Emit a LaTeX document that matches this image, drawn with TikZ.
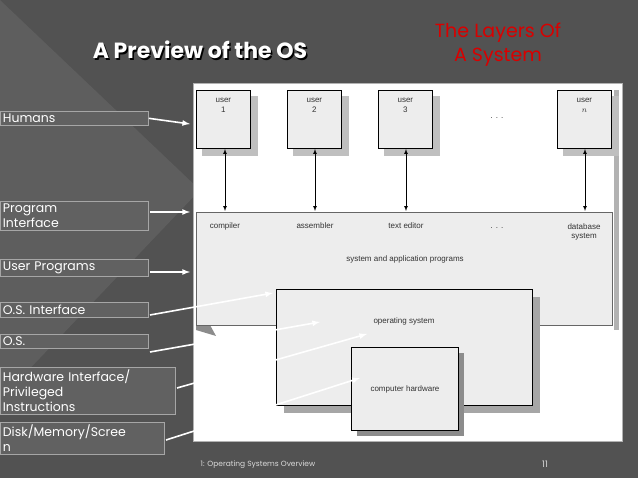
\documentclass[tikz,border=0pt]{standalone}
\usepackage{fontspec}
\setmainfont{Poppins}
\newfontfamily\arialf{Liberation Sans}
\begin{document}
\begin{tikzpicture}[x=1pt,y=-1pt,
  lbl/.style={draw=gray!70,line width=0.8pt,fill=black!62,text=white,font=\fontsize{12.5}{15}\selectfont,inner sep=2.5pt,anchor=north west,align=left,text width=#1},
  box/.style={draw=black,fill=black!7,line width=0.7pt},
  small/.style={font=\arialf\fontsize{8}{9.5}\selectfont,text=black!80,align=center},
  warr/.style={draw=white,line width=1.6pt,-latex},
  barr/.style={draw=black,line width=0.7pt,latex-latex}]
\useasboundingbox (0,0) rectangle (638,478);
\fill[black!68] (0,0) rectangle (638,478);
\fill[black!63] (0,0) -- (200,190) -- (0,400) -- cycle;
% title
\node[text=black,font=\bfseries\fontsize{22}{24}\selectfont] at (201.5,51.5) {A Preview of the OS};
\node (title) [text=white,font=\bfseries\fontsize{22}{24}\selectfont] at (200,50) {A Preview of the OS};
\node (sub) [text=red!85!black,font=\fontsize{19}{24}\selectfont,align=center] at (498,45) {The Layers Of\\A System};
% panel
\fill[white] (193,84) rectangle (622,442);
\draw[gray!60,line width=1pt] (193,84) rectangle (622,442);
\fill[black!30] (614,90) rectangle (619,330);
% users
\foreach \x/\n/\t in {196/u1/1,287/u2/2,378/u3/3,557/un/$n$}{
  \fill[black!25] (\x+6,96) rectangle (\x+62,156);
  \node (\n) [box,minimum width=54pt,minimum height=58pt,anchor=north west,small,text depth=28pt] at (\x,90) {user\\\t};
}
\node (dots1) [small] at (497,118) {. . .};
% programs box
\fill[black!45] (210,325) -- (196,320) -- (196,330) -- (216,336) -- cycle;
\node (prog) [box,draw=black!60,minimum width=416pt,minimum height=113pt,anchor=north west] at (196,212) {};
\node (comp) [small] at (225,226) {compiler};
\node (asm) [small] at (315,226) {assembler};
\node (ted) [small] at (406,226) {text editor};
\node (dots2) [small] at (497,228) {. . .};
\node (db) [small] at (584,232) {database\\system};
\node (sap) [small] at (405,259) {system and application programs};
% os
\fill[black!35] (284,297) rectangle (540,413);
\node (os) [box,minimum width=256pt,minimum height=116pt,anchor=north west] at (276,289) {};
\node (ostxt) [small] at (404,321) {operating system};
% hw
\fill[black!45] (357,353) rectangle (464,436);
\node (hw) [box,minimum width=107pt,minimum height=83pt,anchor=north west] at (351,347) {};
\node (hwtxt) [small] at (405,389) {computer hardware};
% vertical arrows
\foreach \u/\x in {u1/225,u2/315,u3/406,un/585}{
  \coordinate (t\u) at (\x,149); \coordinate (b\u) at (\x,211);
  \draw[barr] (t\u) -- (b\u);
}
% left labels
\node (hum) [lbl=143pt] at (0,111) {Humans};
\node (pi) [lbl=143pt] at (0,201) {Program\\Interface};
\node (up) [lbl=143pt] at (0,259) {User Programs};
\node (osi) [lbl=143pt] at (0,302) {O.S. Interface};
\node (oslb) [lbl=143pt] at (0,334) {O.S.};
\node (hwi) [lbl=170pt] at (0,367) {Hardware Interface/\\Privileged\\Instructions};
\node (disk) [lbl=159pt] at (0,422) {Disk/Memory/Scree\\n};
% white arrows
\coordinate (a1) at (190,124); \coordinate (a2) at (190,212); \coordinate (a3) at (190,272);
\coordinate (a4) at (273,293); \coordinate (a5) at (320,322); \coordinate (a6) at (367,334);
\coordinate (a7) at (360,378);
\draw[warr] (hum.east) -- (a1);
\draw[warr] (150,212) -- (a2);
\draw[warr] (150,272) -- (a3);
\draw[warr] (150,315) -- (a4);
\draw[warr] (150,352) -- (a5);
\draw[warr] (177,388) -- (a6);
\draw[warr] (166,440) -- (a7);
% footer
\node (foot) [text=white!85!black,font=\fontsize{7.5}{8}\selectfont] at (258,465) {1: Operating Systems Overview};
\node (num) [text=white!85!black,font=\fontsize{9}{9}\selectfont] at (545,464) {11};
\end{tikzpicture}
\end{document}
